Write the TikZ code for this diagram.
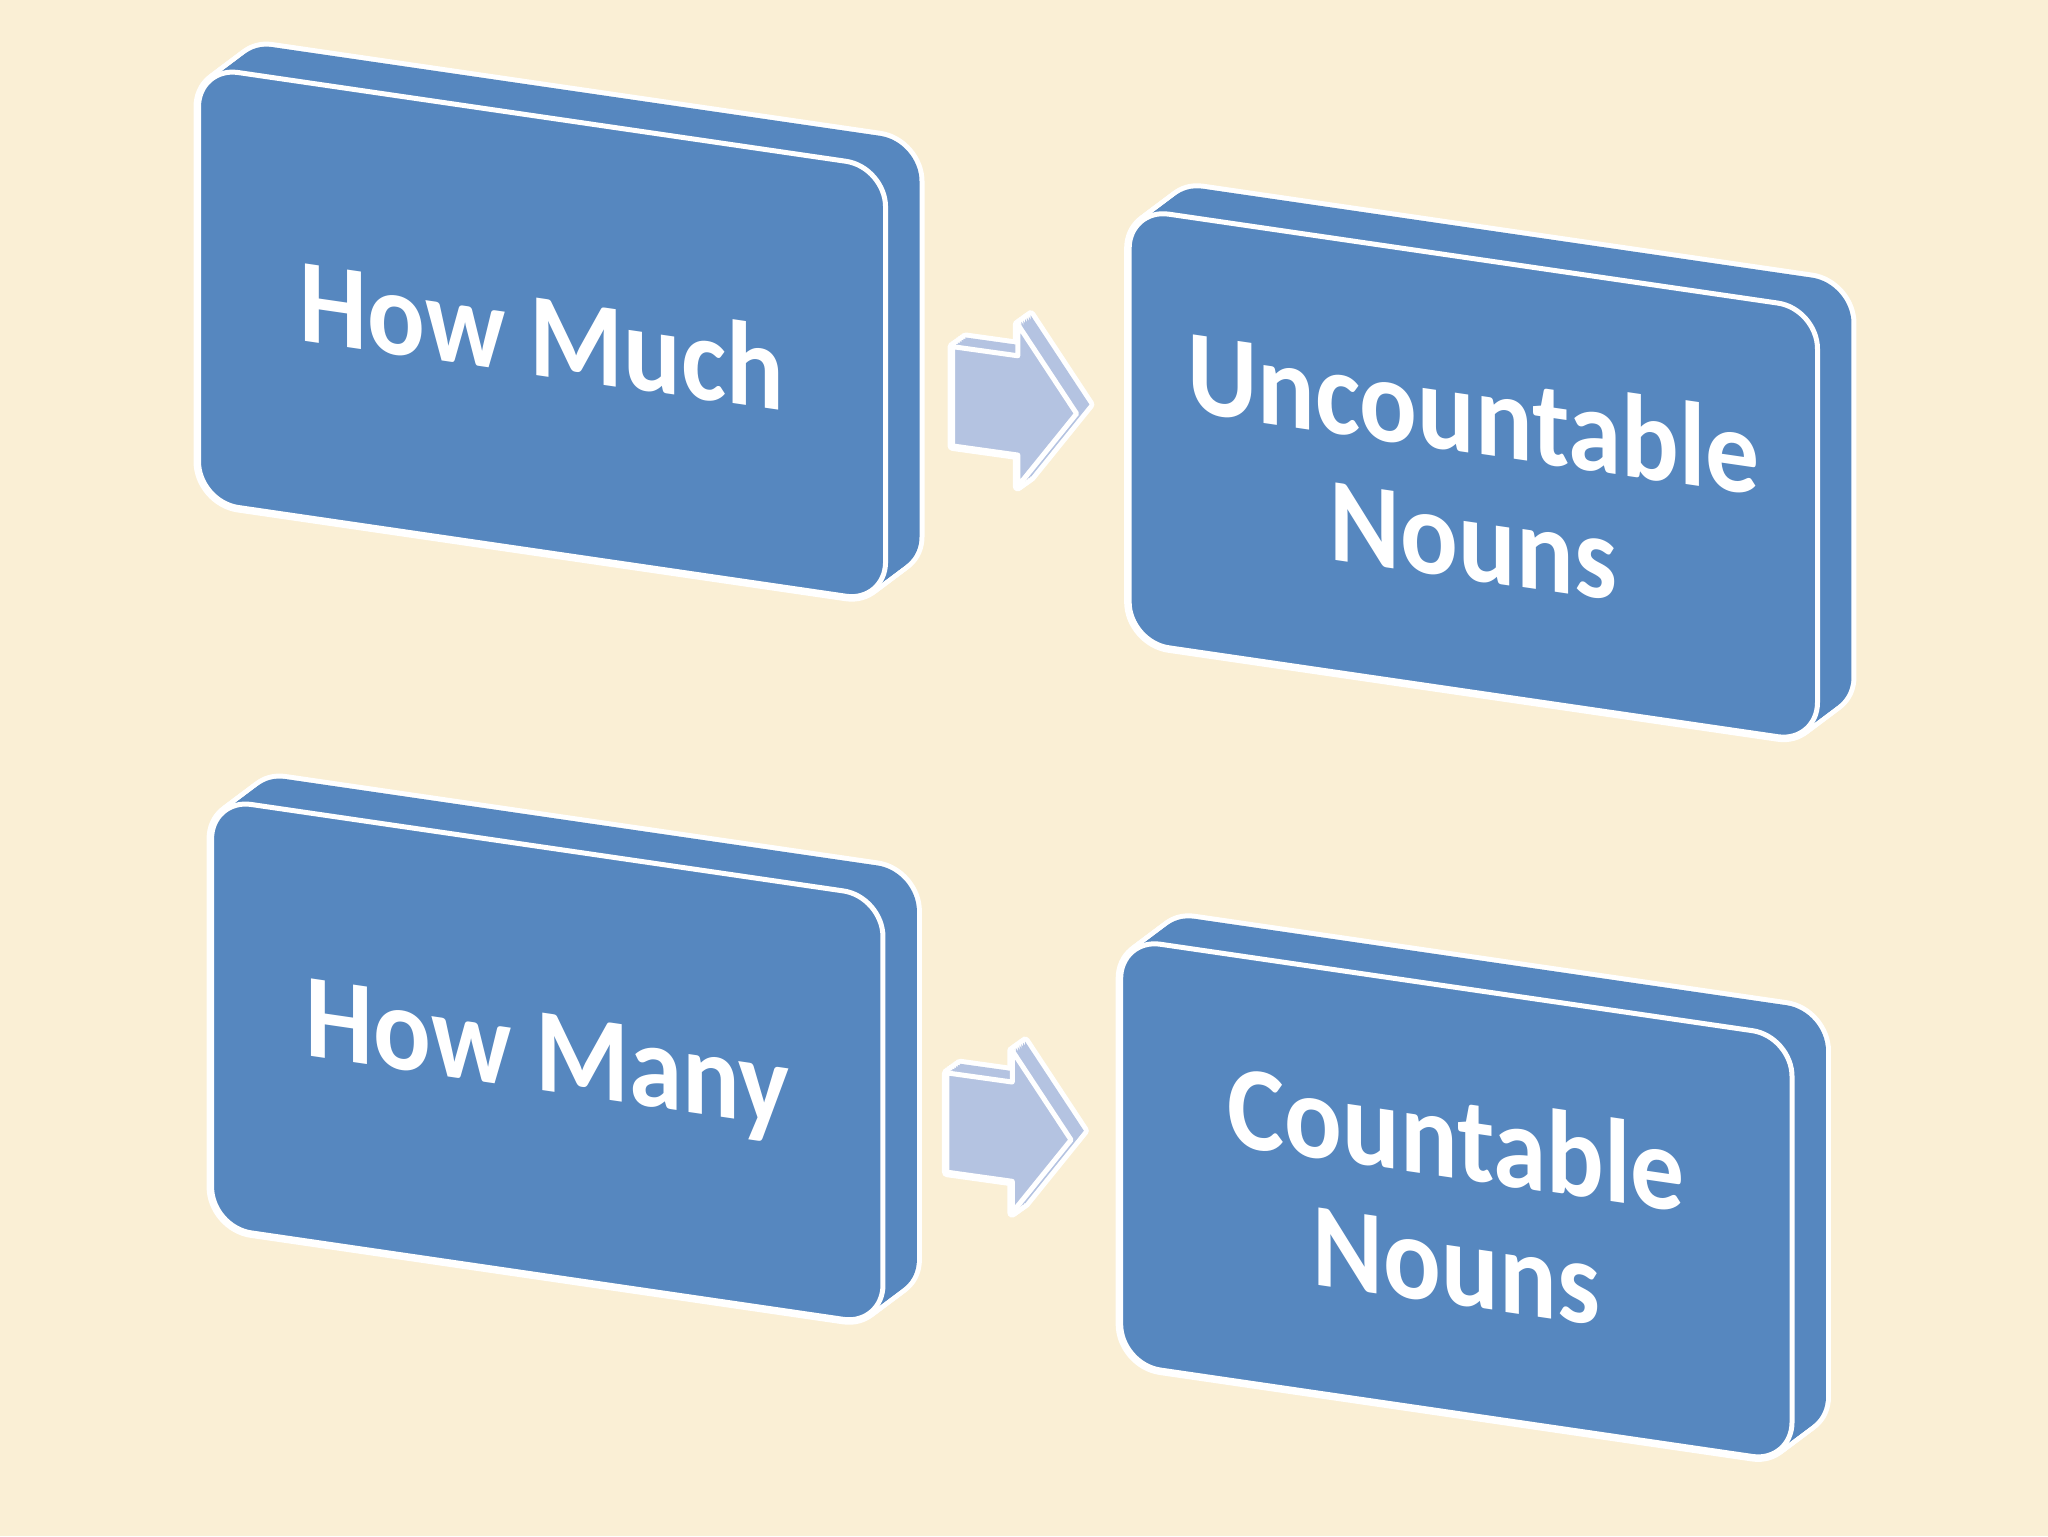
\documentclass[tikz,border=0pt]{standalone}
\usepackage{fontspec}
\setmainfont{Carlito}
\newfontfamily\cardfont{Carlito}[FakeStretch=0.9]
\usetikzlibrary{calc}

\definecolor{paper}{RGB}{250,239,213}
\definecolor{cardblue}{RGB}{86,135,191}
\definecolor{arrowblue}{RGB}{180,195,225}

\begin{document}
\begin{tikzpicture}[x=0.1306mm, y=-0.1306mm,
        card/.style = {rectangle, rounded corners=4mm, inner sep=0pt, yslant=-0.146},
        cardrim/.style = {card, draw=white, line width=1mm},
        cardfill/.style = {card, fill=cardblue},
        cardface/.style = {card, fill=cardblue, draw=white, line width=0.5mm, text=white, align=center, font=\cardfont\fontsize{34}{36}\selectfont\bfseries},
        pointer/.style = {line join=round, yslant=-0.14},
        pointerrim/.style = {pointer, draw=white, line width=1mm},
        pointerfill/.style = {pointer, fill=arrowblue},
        pointerface/.style = {pointer, fill=arrowblue, draw=white, line width=0.5mm}]

    \fill[paper] (0,0) rectangle (1568,1176);
    \useasboundingbox (0,0) rectangle (1568,1176);

    \coordinate (much-c) at (415,256);
    \coordinate (uncount-c) at (1128,364);
    \coordinate (many-c) at (419,813);
    \coordinate (count-c) at (1115,919);

    % boxes: white rim, blue depth, front face
    \foreach \c/\w/\h/\t in {much/526/333/{How Much}, uncount/527/332/{Uncountable\\Nouns}, many/514/328/{How Many}, count/514/326/{Countable\\Nouns}} {
        \foreach \i in {0,...,13}
            \node[cardrim, minimum width=\w*0.1306mm, minimum height=\h*0.1306mm] (\c-rim-\i) at ($(\c-c)+(2*\i,-1.5*\i)$) {};
        \foreach \i in {1,...,13}
            \node[cardfill, minimum width=\w*0.1306mm, minimum height=\h*0.1306mm] (\c-side-\i) at ($(\c-c)+(2*\i,-1.5*\i)$) {};
        \node[cardface, minimum width=\w*0.1306mm, minimum height=\h*0.1306mm] (\c) at (\c-c) {\t};
    }

    % block arrows between the boxes
    \foreach \a/\b in {much/uncount, many/count} {
        \coordinate (\a-arrow) at ($(\a.east)!0.5!(\b.west)+(5,0)$);
        \foreach \i in {0,...,7}
            \draw[pointerrim, shift={($(\a-arrow)+(1.4*\i,-1.2*\i)$)}] (-47,-38) -- (3,-38) -- (3,-62) -- (48,0) -- (3,62) -- (3,38) -- (-47,38) -- cycle;
        \foreach \i in {1,...,7}
            \fill[pointerfill, shift={($(\a-arrow)+(1.4*\i,-1.2*\i)$)}] (-47,-38) -- (3,-38) -- (3,-62) -- (48,0) -- (3,62) -- (3,38) -- (-47,38) -- cycle;
        \draw[pointerface, shift={(\a-arrow)}] (-47,-38) -- (3,-38) -- (3,-62) -- (48,0) -- (3,62) -- (3,38) -- (-47,38) -- cycle;
    }

\end{tikzpicture}
\end{document}
